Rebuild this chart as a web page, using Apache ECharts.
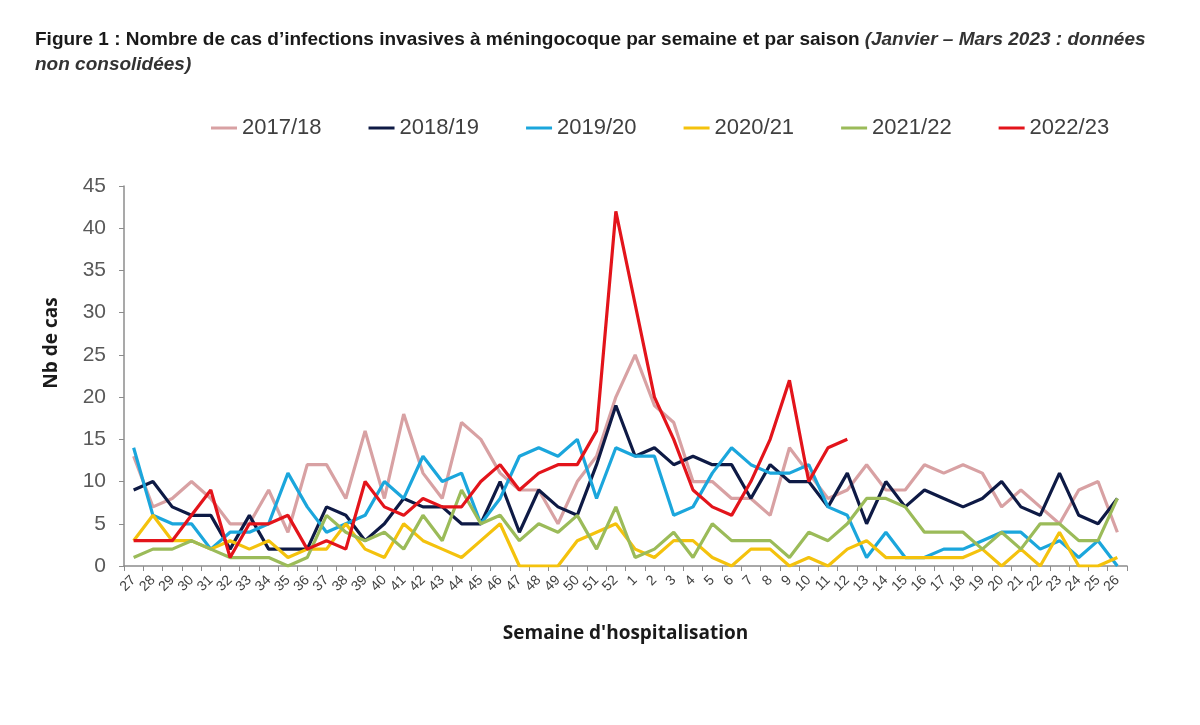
<!DOCTYPE html>
<html>
<head>
<meta charset="utf-8">
<title>Infections invasives à méningocoque</title>
<script src="https://cdn.jsdelivr.net/npm/echarts@6/dist/echarts.min.js"></script>
<style>
  html, body { margin: 0; padding: 0; background: #fff; }
  #chart { width: 1200px; height: 725px; }
</style>
</head>
<body>
<div id="chart"></div>
<script>
// semaines 27 -> 52 puis 1 -> 26
const weeks = ['27', '28', '29', '30', '31', '32', '33', '34', '35', '36', '37', '38', '39',
  '40', '41', '42', '43', '44', '45', '46', '47', '48', '49', '50', '51', '52',
  '1', '2', '3', '4', '5', '6', '7', '8', '9', '10', '11', '12', '13',
  '14', '15', '16', '17', '18', '19', '20', '21', '22', '23', '24', '25', '26']

const s1718 = [13, 7, 8, 10, 8, 5, 5, 9, 4, 12, 12, 8, 16, 8, 18, 11, 8, 17, 15, 11, 9, 9, 5, 10, 13, 20,
  25, 19, 17, 10, 10, 8, 8, 6, 14, 11, 8, 9, 12, 9, 9, 12, 11, 12, 11, 7, 9, 7, 5, 9, 10, 4]
const s1819 = [9, 10, 7, 6, 6, 2, 6, 2, 2, 2, 7, 6, 3, 5, 8, 7, 7, 5, 5, 10, 4, 9, 7, 6, 12, 19,
  13, 14, 12, 13, 12, 12, 8, 12, 10, 10, 7, 11, 5, 10, 7, 9, 8, 7, 8, 10, 7, 6, 11, 6, 5, 8]
const s1920 = [14, 6, 5, 5, 2, 4, 4, 5, 11, 7, 4, 5, 6, 10, 8, 13, 10, 11, 5, 8, 13, 14, 13, 15, 8, 14,
  13, 13, 6, 7, 11, 14, 12, 11, 11, 12, 7, 6, 1, 4, 1, 1, 2, 2, 3, 4, 4, 2, 3, 1, 3, 0]
const s2021 = [3, 6, 3, 3, 2, 3, 2, 3, 1, 2, 2, 5, 2, 1, 5, 3, 2, 1, 3, 5, 0, 0, 0, 3, 4, 5,
  2, 1, 3, 3, 1, 0, 2, 2, 0, 1, 0, 2, 3, 1, 1, 1, 1, 1, 2, 0, 2, 0, 4, 0, 0, 1]
const s2122 = [1, 2, 2, 3, 2, 1, 1, 1, 0, 1, 6, 4, 3, 4, 2, 6, 3, 9, 5, 6, 3, 5, 4, 6, 2, 7,
  1, 2, 4, 1, 5, 3, 3, 3, 1, 4, 3, 5, 8, 8, 7, 4, 4, 4, 2, 4, 2, 5, 5, 3, 3, 8]
// saison en cours : données jusqu'à la semaine 12
const s2223 = [3, 3, 3, 6, 9, 1, 5, 5, 6, 2, 3, 2, 10, 7, 6, 8, 7, 7, 10, 12, 9, 11, 12, 12, 16, 42,
  31, 20, 15, 9, 7, 6, 10, 15, 22, 10, 14, 15]

const seasons = ['2017/18', '2018/19', '2019/20', '2020/21', '2021/22', '2022/23']
const seasonData = [s1718, s1819, s1920, s2021, s2122, s2223]
const colors = ['#d8a1a3', '#0e1a45', '#1ba6dc', '#f4c20d', '#9bbb59', '#e3141b']

const axisGrey = '#8c8c8c'
const chart = echarts.init(document.getElementById('chart'))

chart.setOption({
  backgroundColor: '#ffffff',
  animation: false,
  color: colors,
  title: {
    left: 35,
    top: 27,
    padding: 0,
    text: '{b|Figure 1 : Nombre de cas d’infections invasives à méningocoque par semaine et par saison} {i|(Janvier – Mars 2023 : données}\n{i|non consolidées)}',
    textStyle: {
      rich: {
        b: { fontFamily: '"Liberation Sans", Arial, sans-serif', fontWeight: 'bold', fontSize: 19, color: '#1a1a1a', lineHeight: 25 },
        i: { fontFamily: '"Liberation Sans", Arial, sans-serif', fontStyle: 'italic', fontSize: 19, color: '#333', lineHeight: 25 }
      }
    }
  },
  legend: {
    data: seasons,
    left: 206,
    top: 112,
    icon: 'rect',
    itemWidth: 26,
    itemHeight: 3,
    itemGap: 47,
    textStyle: {
      fontFamily: '"Liberation Sans", Arial, sans-serif',
      fontSize: 22,
      color: '#404040'
    }
  },
  grid: {
    left: 124,
    right: 73,
    top: 186,
    bottom: 159
  },
  xAxis: {
    type: 'category',
    data: weeks,
    boundaryGap: true,
    name: 'Semaine d\'hospitalisation',
    nameLocation: 'middle',
    nameGap: 58,
    nameTextStyle: {
      fontFamily: '"Open Sans", sans-serif',
      fontWeight: 'bold',
      fontSize: 19,
      color: '#1a1a1a'
    },
    axisLine: { lineStyle: { color: axisGrey, width: 1.5 } },
    axisTick: { show: true, length: 5, lineStyle: { color: axisGrey } },
    axisLabel: {
      interval: 0,
      rotate: 45,
      margin: 12,
      fontSize: 14,
      color: '#404040',
      fontFamily: '"Liberation Sans", Arial, sans-serif'
    },
    splitLine: { show: false }
  },
  yAxis: {
    type: 'value',
    min: 0,
    max: 45,
    interval: 5,
    axisLine: { show: true, lineStyle: { color: axisGrey, width: 1.5 } },
    axisTick: { show: true, length: 5, lineStyle: { color: axisGrey } },
    axisLabel: {
      fontSize: 21,
      margin: 18,
      color: '#595959',
      fontFamily: '"Liberation Sans", Arial, sans-serif'
    },
    splitLine: { show: false }
  },
  graphic: [{
    type: 'text',
    x: 52,
    y: 343,
    rotation: Math.PI / 2,
    style: {
      text: 'Nb de cas',
      fontFamily: '"Open Sans", sans-serif',
      fontWeight: 'bold',
      fontSize: 19,
      fill: '#1a1a1a',
      align: 'center',
      verticalAlign: 'middle'
    }
  }],
  series: seasons.map((name, i) => ({
    name: name,
    type: 'line',
    data: seasonData[i],
    symbol: 'none',
    lineStyle: { width: 3.2 },
    z: i === 5 ? 3 : 2
  }))
})
</script>
</body>
</html>
